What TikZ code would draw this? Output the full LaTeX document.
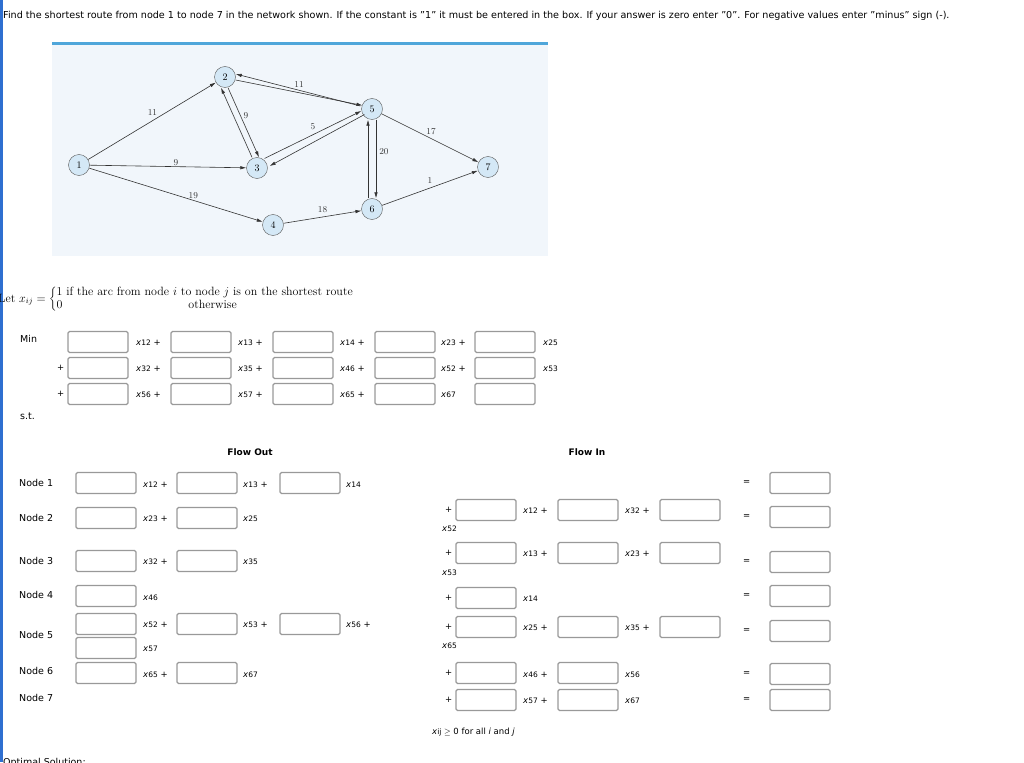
\documentclass[tikz,border=0pt]{standalone}
\usepackage{fontspec}
\setsansfont{DejaVu Sans}
\usetikzlibrary{arrows.meta}
\definecolor{bgblue}{HTML}{F1F6FB}
\definecolor{nodeblue}{HTML}{D4E8F6}
\definecolor{barblue}{HTML}{4FA6DA}
\definecolor{leftblue}{HTML}{2F6FD0}
\tikzset{
 inbox/.style={draw=gray!80,line width=1.3pt,rounded corners=1.5pt,minimum width=60pt,minimum height=21pt,inner sep=0pt,fill=white},
 lab/.style={font=\sffamily\fontsize{8.5}{9}\selectfont,anchor=west,inner sep=0pt},
 txt/.style={font=\sffamily\fontsize{9.5}{10}\selectfont,anchor=west,inner sep=0pt},
 netnode/.style={circle,draw=gray!70!black,fill=nodeblue,minimum size=21pt,inner sep=0pt,font=\fontsize{10}{11}\selectfont},
 arc/.style={-{Latex[length=6pt,width=3.5pt]},gray!40!black,line width=0.6pt},
 wt/.style={font=\fontsize{9}{10}\selectfont,inner sep=1pt}
}
\newcommand{\xv}[1]{\textit{x}{\fontsize{7.5}{8}\selectfont #1}}
\begin{document}
\begin{tikzpicture}[x=1pt,y=-1pt]
\useasboundingbox (0,0) rectangle (1024,762);
\clip (0,0) rectangle (1024,762);
\fill[leftblue] (0,0) rectangle (2.5,762);
\node[txt,font=\sffamily\fontsize{9.6}{10}\selectfont] (title) at (3,16) {Find the shortest route from node 1 to node 7 in the network shown. If the constant is "1" it must be entered in the box. If your answer is zero enter "0". For negative values enter "minus" sign (-).};
% network
\fill[bgblue] (52,45) rectangle (548,256);
\fill[barblue] (52,42) rectangle (548,45);
\node[netnode] (n1) at (79,165) {1};
\node[netnode] (n2) at (225,77) {2};
\node[netnode] (n3) at (257,168) {3};
\node[netnode] (n4) at (273,225) {4};
\node[netnode] (n5) at (372,109) {5};
\node[netnode] (n6) at (372,209) {6};
\node[netnode] (n7) at (488,167) {7};
\draw[arc] (n1) -- node[wt,above left,pos=0.55]{11} (n2);
\draw[arc] (n1) -- node[wt,above,pos=0.55]{9} (n3);
\draw[arc] (n1) -- node[wt,above,pos=0.6]{19} (n4);
\draw[arc] ([yshift=-3pt]n2.east) -- node[wt,above,pos=0.5,yshift=4pt]{11} ([xshift=-2pt,yshift=-4pt]n5.north west);
\draw[arc] ([xshift=-1pt,yshift=3pt]n5.west) -- ([yshift=3pt]n2.east);
\draw[arc] ([xshift=3pt]n2.south) -- node[wt,right,pos=0.4,xshift=2pt]{9} ([xshift=2pt]n3.north);
\draw[arc] ([xshift=-5pt]n3.north) -- ([xshift=-4pt]n2.south);
\draw[arc] ([yshift=2pt]n3.north east) -- node[wt,above,pos=0.5,yshift=4pt]{5} ([yshift=-2pt]n5.west);
\draw[arc] ([yshift=2pt]n5.south west) -- ([xshift=2pt,yshift=2pt]n3.east);
\draw[arc] ([xshift=4pt]n5.south) -- node[wt,right,pos=0.4,xshift=2pt]{20} ([xshift=4pt]n6.north);
\draw[arc] ([xshift=-4pt]n6.north) -- ([xshift=-4pt]n5.south);
\draw[arc] (n4) -- node[wt,above,pos=0.5,yshift=3pt]{18} (n6);
\draw[arc] (n5) -- node[wt,above right,pos=0.45]{17} (n7);
\draw[arc] (n6) -- node[wt,above,pos=0.5,yshift=3pt]{1} (n7);
% definition
\node[anchor=west,inner sep=0pt,font=\fontsize{12}{13}\selectfont] (letx) at (-2,299) {Let $x_{ij}=\left\{\begin{array}{@{}l@{}}1\ \mbox{if the arc from node $i$ to node $j$ is on the shortest route}\\0\hspace{10.5em}\mbox{otherwise}\end{array}\right.$};
% objective
\node[txt] (min) at (20,339) {Min};
\node[txt] (st) at (20,416) {s.t.};
\foreach \r/\y in {1/342,2/368,3/394}{
 \foreach \c/\x in {1/98,2/201,3/303,4/405,5/505}{
  \node[inbox] (m\r\c) at (\x,\y) {};
 }}
\node[lab] (ma1) at (136,343) {\xv{12} +};
\node[lab] (ma2) at (238,343) {\xv{13} +};
\node[lab] (ma3) at (340,343) {\xv{14} +};
\node[lab] (ma4) at (441,343) {\xv{23} +};
\node[lab] (ma5) at (543,343) {\xv{25}};
\node[lab] (mp2) at (57,368) {+};
\node[lab] (mb1) at (136,369) {\xv{32} +};
\node[lab] (mb2) at (238,369) {\xv{35} +};
\node[lab] (mb3) at (340,369) {\xv{46} +};
\node[lab] (mb4) at (441,369) {\xv{52} +};
\node[lab] (mb5) at (543,369) {\xv{53}};
\node[lab] (mp3) at (57,394) {+};
\node[lab] (mc1) at (136,395) {\xv{56} +};
\node[lab] (mc2) at (238,395) {\xv{57} +};
\node[lab] (mc3) at (340,395) {\xv{65} +};
\node[lab] (mc4) at (441,395) {\xv{67}};
% headings
\node[font=\sffamily\bfseries\fontsize{9}{10}\selectfont] (fo) at (250,452) {Flow Out};
\node[font=\sffamily\bfseries\fontsize{9}{10}\selectfont] (fi) at (587,452) {Flow In};
% node labels
\foreach \k/\y in {1/483,2/518,3/561,4/595,5/635,6/671,7/698}{
 \node[txt] (nl\k) at (19,\y) {Node \k};
}
% flow out
\node[inbox] (o11) at (106,483) {}; \node[lab] (ol11) at (143,485) {\xv{12} +};
\node[inbox] (o12) at (207,483) {}; \node[lab] (ol12) at (243,485) {\xv{13} +};
\node[inbox] (o13) at (310,483) {}; \node[lab] (ol13) at (346,485) {\xv{14}};
\node[inbox] (o21) at (106,518) {}; \node[lab] (ol21) at (143,519) {\xv{23} +};
\node[inbox] (o22) at (207,518) {}; \node[lab] (ol22) at (243,519) {\xv{25}};
\node[inbox] (o31) at (106,561) {}; \node[lab] (ol31) at (143,562) {\xv{32} +};
\node[inbox] (o32) at (207,561) {}; \node[lab] (ol32) at (243,562) {\xv{35}};
\node[inbox] (o41) at (106,596) {}; \node[lab] (ol41) at (143,598) {\xv{46}};
\node[inbox] (o51) at (106,624) {}; \node[lab] (ol51) at (143,625) {\xv{52} +};
\node[inbox] (o52) at (207,624) {}; \node[lab] (ol52) at (243,625) {\xv{53} +};
\node[inbox] (o53) at (310,624) {}; \node[lab] (ol53) at (346,625) {\xv{56} +};
\node[inbox] (o54) at (106,648) {}; \node[lab] (ol54) at (143,649) {\xv{57}};
\node[inbox] (o61) at (106,673) {}; \node[lab] (ol61) at (143,675) {\xv{65} +};
\node[inbox] (o62) at (207,673) {}; \node[lab] (ol62) at (243,675) {\xv{67}};
% flow in
\foreach \k/\y in {2/510,3/553,4/598,5/627,6/673,7/700}{
 \node[lab] (ip\k) at (445,\y) {+};
}
\node[inbox] (i21) at (486,510) {}; \node[lab] (il21) at (523,511) {\xv{12} +};
\node[inbox] (i22) at (588,510) {}; \node[lab] (il22) at (625,511) {\xv{32} +};
\node[inbox] (i23) at (690,510) {}; \node[lab] (il23) at (442,529) {\xv{52}};
\node[inbox] (i31) at (486,553) {}; \node[lab] (il31) at (523,554) {\xv{13} +};
\node[inbox] (i32) at (588,553) {}; \node[lab] (il32) at (625,554) {\xv{23} +};
\node[inbox] (i33) at (690,553) {}; \node[lab] (il33) at (442,573) {\xv{53}};
\node[inbox] (i41) at (486,598) {}; \node[lab] (il41) at (523,599) {\xv{14}};
\node[inbox] (i51) at (486,627) {}; \node[lab] (il51) at (523,628) {\xv{25} +};
\node[inbox] (i52) at (588,627) {}; \node[lab] (il52) at (625,628) {\xv{35} +};
\node[inbox] (i53) at (690,627) {}; \node[lab] (il53) at (442,646) {\xv{65}};
\node[inbox] (i61) at (486,673) {}; \node[lab] (il61) at (523,675) {\xv{46} +};
\node[inbox] (i62) at (588,673) {}; \node[lab] (il62) at (625,675) {\xv{56}};
\node[inbox] (i71) at (486,700) {}; \node[lab] (il71) at (523,701) {\xv{57} +};
\node[inbox] (i72) at (588,700) {}; \node[lab] (il72) at (625,701) {\xv{67}};
% rhs
\foreach \k/\y in {1/483,2/517,3/562,4/596,5/631,6/674,7/700}{
 \node[lab] (eq\k) at (743,\y) {=};
 \node[inbox] (r\k) at (800,\y) {};
}
\node[lab] (nonneg) at (432,732) {\xv{ij} $\geq$ 0 for all \textit{i} and \textit{j}};
\node[txt] (opt) at (3,763) {Optimal Solution:};
\end{tikzpicture}
\end{document}
